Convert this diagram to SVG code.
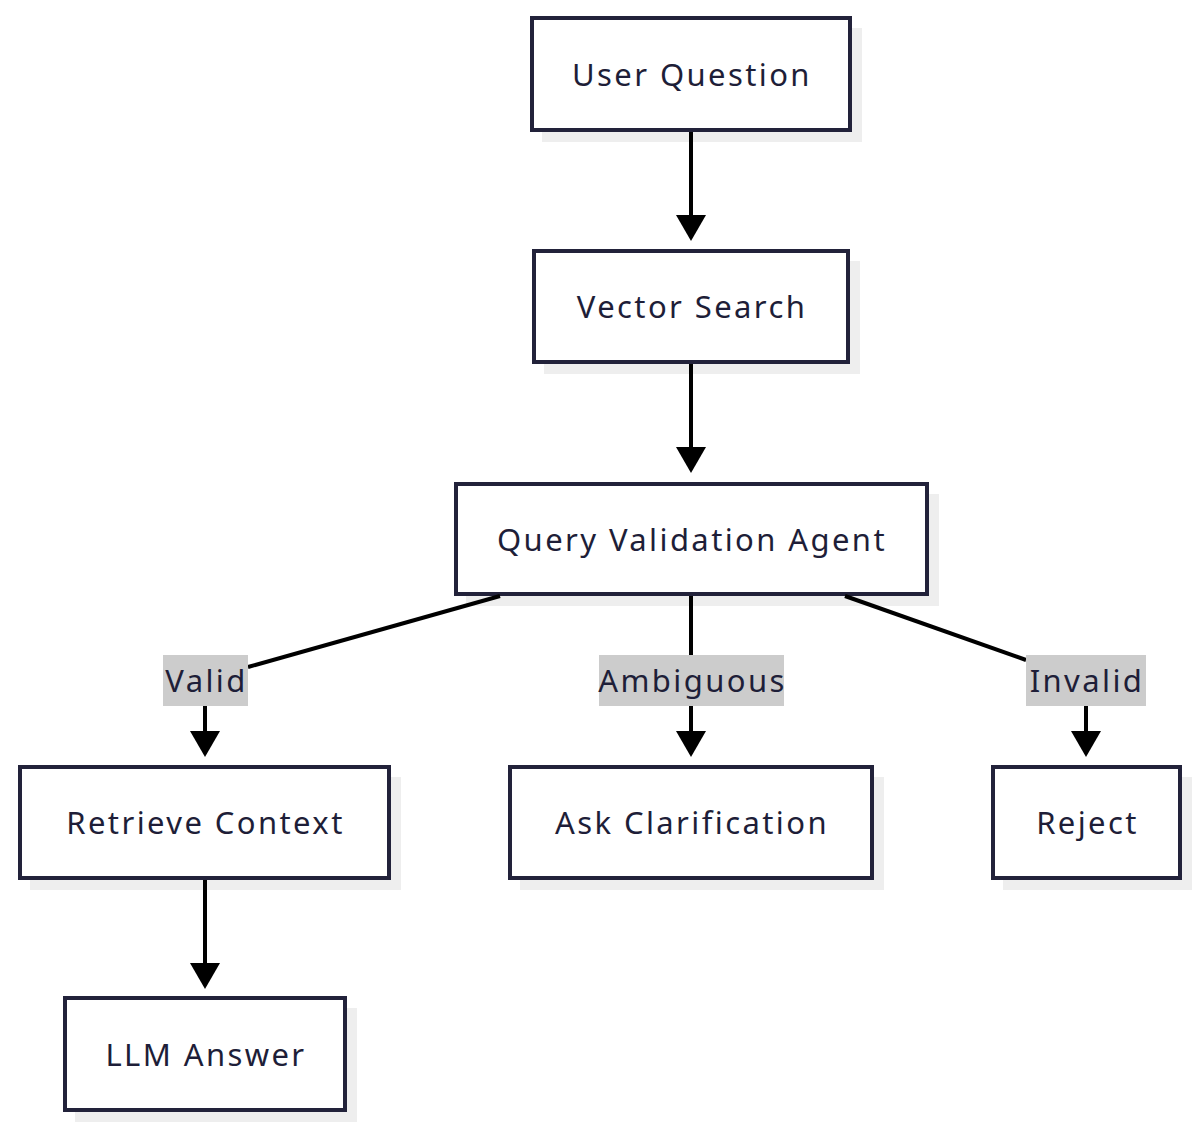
<svg xmlns="http://www.w3.org/2000/svg" width="1200" height="1129" viewBox="0 0 1200 1129">
<style>
.shadow{fill:#eeeeee}
.box{fill:#ffffff;stroke:#22223a;stroke-width:4}
.t{font-family:"Noto Sans","Open Sans",sans-serif;font-size:31px;fill:#1e1e38;text-anchor:middle;dominant-baseline:central;letter-spacing:2.4px}
.lbl{fill:#cccccc}
.edge{stroke:#000;stroke-width:4;fill:none}
</style>
<rect width="1200" height="1129" fill="#ffffff"/>
<g id="node-user-question">
<rect class="shadow" x="542" y="28" width="320" height="114"/>
<rect class="box" x="532" y="18" width="318" height="112"/>
<text class="t" x="692" y="74">User Question</text>
</g>
<g id="node-vector-search">
<rect class="shadow" x="544" y="261" width="316" height="113"/>
<rect class="box" x="534" y="251" width="314" height="111"/>
<text class="t" x="692" y="306">Vector Search</text>
</g>
<g id="node-query-validation">
<rect class="shadow" x="466" y="494" width="473" height="112"/>
<rect class="box" x="456" y="484" width="471" height="110"/>
<text class="t" x="692" y="539">Query Validation Agent</text>
</g>
<g id="node-retrieve-context">
<rect class="shadow" x="30" y="777" width="371" height="113"/>
<rect class="box" x="20" y="767" width="369" height="111"/>
<text class="t" x="205.5" y="822">Retrieve Context</text>
</g>
<g id="node-ask-clarification">
<rect class="shadow" x="520" y="777" width="364" height="113"/>
<rect class="box" x="510" y="767" width="362" height="111"/>
<text class="t" x="692" y="822">Ask Clarification</text>
</g>
<g id="node-reject">
<rect class="shadow" x="1003" y="777" width="189" height="113"/>
<rect class="box" x="993" y="767" width="187" height="111"/>
<text class="t" x="1087.5" y="822">Reject</text>
</g>
<g id="node-llm-answer">
<rect class="shadow" x="75" y="1008" width="282" height="114"/>
<rect class="box" x="65" y="998" width="280" height="112"/>
<text class="t" x="206" y="1054">LLM Answer</text>
</g>
<g id="connectors">
<line class="edge" x1="691" y1="132" x2="691" y2="215"/>
<path d="M676,215 L706,215 L691,241 Z"/>
<line class="edge" x1="691" y1="364" x2="691" y2="447"/>
<path d="M676,447 L706,447 L691,473 Z"/>
<line class="edge" x1="500" y1="596" x2="248" y2="667"/>
<line class="edge" x1="205" y1="706" x2="205" y2="732"/>
<path d="M190,731 L220,731 L205,757 Z"/>
<line class="edge" x1="691" y1="596" x2="691" y2="655"/>
<line class="edge" x1="691" y1="706" x2="691" y2="732"/>
<path d="M676,731 L706,731 L691,757 Z"/>
<line class="edge" x1="845" y1="596" x2="1026" y2="660"/>
<line class="edge" x1="1086" y1="706" x2="1086" y2="732"/>
<path d="M1071,731 L1101,731 L1086,757 Z"/>
<line class="edge" x1="205" y1="880" x2="205" y2="964"/>
<path d="M190,963 L220,963 L205,989 Z"/>
</g>
<g id="edge-labels">
<g id="label-valid"><rect class="lbl" x="163" y="655" width="85" height="51"/><text class="t" x="206.5" y="680">Valid</text></g>
<g id="label-ambiguous"><rect class="lbl" x="599" y="655" width="185" height="51"/><text class="t" x="692.5" y="680">Ambiguous</text></g>
<g id="label-invalid"><rect class="lbl" x="1026" y="655" width="120" height="51"/><text class="t" x="1087" y="680">Invalid</text></g>
</g>
</svg>
